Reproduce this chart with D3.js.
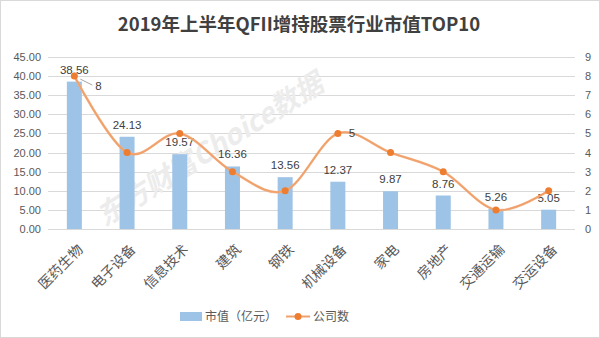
<!DOCTYPE html>
<html><head><meta charset="utf-8">
<script src="https://cdn.jsdelivr.net/npm/d3@7"></script>
<style>
body{margin:0;background:#fff;}
svg{display:block;}
text{font-family:"Liberation Sans","Noto Sans CJK SC",sans-serif;}
</style></head>
<body><svg id="c" width="600" height="338"></svg>
<script>
const categories = ['医药生物','电子设备','信息技术','建筑','钢铁','机械设备','家电','房地产','交通运输','交运设备'];
const values = [38.56,24.13,19.57,16.36,13.56,12.37,9.87,8.76,5.26,5.05];
const counts = [8,4,5,3,2,5,4,3,1,2];
const leftTicks = [0,5,10,15,20,25,30,35,40,45];
const rightTicks = [0,1,2,3,4,5,6,7,8,9];
const shownCountLabels = [0,5];

const svg = d3.select('#c');
const W=600,H=338;
svg.append('rect').attr('x',0.5).attr('y',0.5).attr('width',W-1).attr('height',H-1)
  .attr('fill','#fff').attr('stroke','#d9d9d9');

const m={l:48,r:575,t:57,b:229};
const x=d3.scaleBand().domain(categories).range([m.l,m.r]);
const yL=d3.scaleLinear().domain([0,45]).range([m.b,m.t]);
const yR=d3.scaleLinear().domain([0,9]).range([m.b,m.t]);

// title
svg.append('text').attr('x',299).attr('y',31).attr('text-anchor','middle')
  .attr('font-size',18.5).attr('font-weight','bold').attr('fill','#404040')
  .style('font-family','"Noto Sans CJK SC","Liberation Sans",sans-serif')
  .text('2019年上半年QFII增持股票行业市值TOP10');

// grid
svg.append('g').selectAll('line').data(leftTicks).join('line')
  .attr('x1',m.l).attr('x2',m.r).attr('y1',d=>Math.round(yL(d))+0.5).attr('y2',d=>Math.round(yL(d))+0.5)
  .attr('stroke','#d9d9d9').attr('stroke-width',1);

// left axis
const gl=svg.append('g').attr('transform',`translate(${m.l-6},0)`)
  .call(d3.axisLeft(yL).tickValues(leftTicks).tickFormat(d3.format('.2f')).tickSize(0));
gl.select('.domain').remove();
gl.selectAll('text').attr('font-size',11).attr('fill','#595959').attr('x',-1)
  .style('font-family','"Liberation Sans",sans-serif');
// right axis
const gr=svg.append('g').attr('transform',`translate(${m.r+6},0)`)
  .call(d3.axisRight(yR).tickValues(rightTicks).tickFormat(d3.format('d')).tickSize(0));
gr.select('.domain').remove();
gr.selectAll('text').attr('font-size',11).attr('fill','#595959').attr('x',4)
  .style('font-family','"Liberation Sans",sans-serif');

// watermark
svg.append('text').attr('transform','translate(215,158) rotate(-32)').attr('text-anchor','middle')
  .attr('font-size',28).attr('font-weight','bold').attr('font-style','italic')
  .attr('fill','#ececec')
  .style('font-family','"Noto Sans CJK SC",sans-serif')
  .text('东方财富Choice数据');

// bars
const bw=15;
svg.append('g').selectAll('rect').data(values).join('rect')
  .attr('x',(d,i)=>x(categories[i])+x.bandwidth()/2-bw/2)
  .attr('width',bw)
  .attr('y',d=>yL(d)).attr('height',d=>yL(0)-yL(d))
  .attr('fill','#9dc3e6');

// bar labels
svg.append('g').selectAll('text').data(values).join('text')
  .attr('x',(d,i)=>x(categories[i])+x.bandwidth()/2)
  .attr('y',d=>yL(d)-8)
  .attr('text-anchor','middle').attr('font-size',11.5).attr('fill','#404040')
  .text(d=>d.toFixed(2));

// line
const pts=counts.map((c,i)=>[x(categories[i])+x.bandwidth()/2,yR(c)]);
svg.append('path').attr('d',d3.line().curve(d3.curveCardinal.tension(0))(pts))
  .attr('fill','none').attr('stroke','#f4b183').attr('stroke-width',2.5).attr('stroke-opacity',0.9);
svg.append('path').attr('d',d3.line().curve(d3.curveCardinal.tension(0))(pts))
  .attr('fill','none').attr('stroke','#f0a06a').attr('stroke-width',1.6);
svg.append('g').selectAll('circle').data(pts).join('circle')
  .attr('cx',d=>d[0]).attr('cy',d=>d[1]).attr('r',3.5).attr('fill','#ed7d31');

// count labels
shownCountLabels.forEach(i=>{
  const [px,py]=pts[i];
  if(i===0){
    svg.append('line').attr('x1',px+6).attr('y1',py+3).attr('x2',px+18).attr('y2',py+9)
      .attr('stroke','#a6a6a6').attr('stroke-width',1);
    svg.append('text').attr('x',px+21).attr('y',py+14).attr('font-size',11.5).attr('fill','#404040').text(counts[i]);
  } else {
    svg.append('text').attr('x',px+11).attr('y',py+4).attr('font-size',11.5).attr('fill','#404040').text(counts[i]);
  }
});

// x labels
svg.append('g').selectAll('text').data(categories).join('text')
  .attr('transform',d=>`translate(${x(d)+x.bandwidth()/2+6},${m.b+18}) rotate(-45)`)
  .attr('text-anchor','end').attr('dy','0.35em')
  .attr('font-size',14).attr('fill','#595959')
  .style('font-family','"Noto Sans CJK SC",sans-serif')
  .text(d=>d);

// legend
const lg=svg.append('g');
lg.append('rect').attr('x',180).attr('y',312).attr('width',22).attr('height',9).attr('fill','#9dc3e6');
lg.append('text').attr('x',205).attr('y',321).attr('font-size',12).attr('fill','#595959')
  .style('font-family','"Noto Sans CJK SC",sans-serif').text('市值（亿元）');
lg.append('line').attr('x1',286).attr('x2',310).attr('y1',316.5).attr('y2',316.5).attr('stroke','#f0a06a').attr('stroke-width',2);
lg.append('circle').attr('cx',298).attr('cy',316.5).attr('r',3.5).attr('fill','#ed7d31');
lg.append('text').attr('x',313).attr('y',321).attr('font-size',12).attr('fill','#595959')
  .style('font-family','"Noto Sans CJK SC",sans-serif').text('公司数');
</script></body></html>
